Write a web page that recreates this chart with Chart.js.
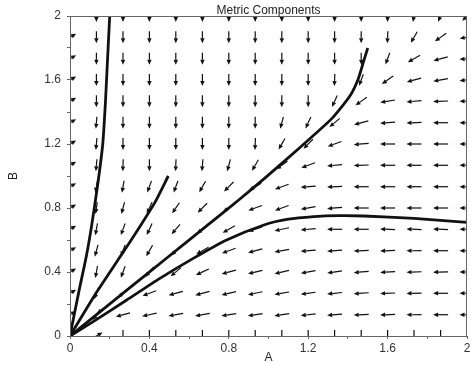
<!DOCTYPE html>
<html>
<head>
<meta charset="utf-8">
<style>
  html, body { margin: 0; padding: 0; background: #fff; }
  #wrap { width: 474px; height: 365px; }
</style>
<script src="https://cdn.jsdelivr.net/npm/chart.js@4.4.1/dist/chart.umd.min.js"></script>
</head>
<body>
<div id="wrap"><canvas id="chart" width="474" height="365"></canvas></div>
<script>
'use strict';

/* ── Data ──────────────────────────────────────────────────────────────── */

const TITLE = 'Metric Components';
const X_LABEL = 'A';
const Y_LABEL = 'B';

// Quiver grid (16 x 16)
const GRID_A = [0, 0.133, 0.267, 0.4, 0.533, 0.667, 0.8, 0.933, 1.067, 1.2, 1.333, 1.467, 1.6, 1.733, 1.867, 2];
const GRID_B = [2, 1.867, 1.733, 1.6, 1.467, 1.333, 1.2, 1.067, 0.933, 0.8, 0.667, 0.533, 0.4, 0.267, 0.133, 0];

// Arrow directions in degrees (0 = right, 90 = up), one row per GRID_B value
const FIELD_ANGLES = [
    [30, 270, 270, 270, 270, 270, 270, 270, 270, 270, 270, 270, 270, 260, 245, 225],
    [30, 270, 270, 270, 270, 270, 270, 270, 270, 270, 270, 270, 268, 240, 215, 190],
    [30, 270, 270, 270, 270, 270, 270, 270, 270, 270, 270, 270, 250, 210, 195, 185],
    [30, 270, 270, 270, 270, 270, 270, 270, 270, 270, 268, 250, 215, 195, 190, 185],
    [30, 270, 270, 270, 270, 270, 270, 270, 270, 270, 245, 215, 190, 185, 182, 180],
    [30, 265, 270, 270, 270, 270, 270, 270, 255, 245, 220, 195, 185, 182, 180, 180],
    [30, 265, 270, 270, 270, 270, 270, 268, 240, 225, 200, 185, 180, 180, 180, 180],
    [30, 265, 268, 270, 268, 265, 255, 240, 215, 200, 185, 182, 180, 180, 180, 180],
    [30, 260, 260, 250, 250, 240, 225, 210, 200, 185, 182, 180, 180, 180, 180, 180],
    [30, 262, 255, 245, 235, 225, 212, 200, 200, 190, 185, 180, 180, 180, 180, 180],
    [30, 260, 250, 245, 230, 218, 210, 198, 192, 185, 180, 180, 178, 178, 178, 180],
    [30, 255, 250, 240, 225, 210, 200, 195, 190, 185, 184, 183, 182, 181, 180, 180],
    [30, 260, 250, 230, 220, 205, 195, 193, 193, 190, 188, 185, 183, 182, 181, 180],
    [30, 250, 220, 200, 195, 195, 193, 192, 190, 188, 186, 184, 182, 181, 180, 180],
    [30, 235, 195, 192, 190, 190, 188, 188, 188, 186, 185, 183, 182, 181, 180, 180],
    [45,  30, 270, 270, 270, 270, 270, 270, 270, 270, 270, 270, 270, 270, 270, 270],
];

// Trajectories (A, B)
const TRAJ1_A = [0, 0.045, 0.081, 0.109, 0.14, 0.165, 0.178, 0.188, 0.2];
const TRAJ1_B = [0, 0.28, 0.49, 0.69, 0.95, 1.2, 1.45, 1.7, 2.0];

const TRAJ2_A = [0, 0.13, 0.25, 0.35, 0.43, 0.495];
const TRAJ2_B = [0, 0.265, 0.49, 0.68, 0.84, 1.0];

const TRAJ3_A = [0, 0.28, 0.5, 0.69, 0.85, 0.98, 1.16, 1.32, 1.41, 1.45, 1.48, 1.5];
const TRAJ3_B = [0, 0.28, 0.5, 0.69, 0.85, 0.985, 1.18, 1.36, 1.5, 1.6, 1.72, 1.8];

const TRAJ4_A = [0, 0.117, 0.286, 0.453, 0.621, 0.789, 0.977, 1.1, 1.229, 1.35, 1.481, 1.733, 2.0];
const TRAJ4_B = [0, 0.09, 0.225, 0.36, 0.485, 0.6, 0.694, 0.73, 0.746, 0.752, 0.75, 0.735, 0.71];

const ARROW_LEN = 0.0756;   // data units

/* ── Helpers ───────────────────────────────────────────────────────────── */

const FONT = '"Liberation Sans", Arial, Helvetica, sans-serif';

function toPoints(xs, ys) {
    return xs.map((x, i) => ({ x, y: ys[i] }));
}

function quiverPoints() {
    const pts = [];
    GRID_B.forEach((b, r) => {
        GRID_A.forEach((a, c) => {
            pts.push({ x: a, y: b, angle: FIELD_ANGLES[r][c] });
        });
    });
    return pts;
}

function trajectory(xs, ys) {
    return {
        type: 'line',
        data: toPoints(xs, ys),
        borderColor: '#111',
        borderWidth: 2.8,
        pointRadius: 0,
        tension: 0.2,
        fill: false,
    };
}

/* ── Plugins ───────────────────────────────────────────────────────────── */

// Draws the quiver arrows under the trajectories, clipped to the plot
const quiverPlugin = {
    id: 'quiver',
    beforeDatasetsDraw(chart) {
        const { ctx, chartArea: ca } = chart;
        const xs = chart.scales.x, ys = chart.scales.y;
        const sx = Math.abs(xs.getPixelForValue(1) - xs.getPixelForValue(0));
        const sy = Math.abs(ys.getPixelForValue(1) - ys.getPixelForValue(0));

        ctx.save();
        ctx.beginPath();
        ctx.rect(ca.left, ca.top, ca.right - ca.left, ca.bottom - ca.top);
        ctx.clip();
        ctx.strokeStyle = '#111';
        ctx.fillStyle = '#111';
        ctx.lineWidth = 1.2;

        chart.data.datasets[0].data.forEach(p => {
            const t = p.angle * Math.PI / 180;
            let u = Math.cos(t) / sx, v = Math.sin(t) / sy;
            const n = Math.hypot(u, v);
            u = u / n * ARROW_LEN;
            v = v / n * ARROW_LEN;

            const x0 = xs.getPixelForValue(p.x - u / 2), y0 = ys.getPixelForValue(p.y - v / 2);
            const x1 = xs.getPixelForValue(p.x + u / 2), y1 = ys.getPixelForValue(p.y + v / 2);
            const dx = x1 - x0, dy = y1 - y0;
            const len = Math.hypot(dx, dy);
            const ux = dx / len, uy = dy / len;
            const head = 5, half = 2.2;
            const bx = x1 - ux * head, by = y1 - uy * head;

            ctx.beginPath();
            ctx.moveTo(x0, y0);
            ctx.lineTo(bx, by);
            ctx.stroke();

            ctx.beginPath();
            ctx.moveTo(x1, y1);
            ctx.lineTo(bx - uy * half, by + ux * half);
            ctx.lineTo(bx + uy * half, by - ux * half);
            ctx.closePath();
            ctx.fill();
        });
        ctx.restore();
    },
};

// Box frame + title
const framePlugin = {
    id: 'frame',
    afterDraw(chart) {
        const { ctx, chartArea: ca } = chart;
        ctx.save();
        ctx.strokeStyle = '#666';
        ctx.lineWidth = 1;
        ctx.strokeRect(ca.left + 0.5, ca.top + 0.5, ca.right - ca.left - 1, ca.bottom - ca.top);

        ctx.fillStyle = '#222';
        ctx.font = '12px ' + FONT;
        ctx.textAlign = 'center';
        ctx.textBaseline = 'alphabetic';
        ctx.fillText(TITLE, (ca.left + ca.right) / 2, 14);
        ctx.restore();
    },
};

/* ── Chart ─────────────────────────────────────────────────────────────── */

function tickLabel(v) {
    const r = Math.round(v * 10);
    return r % 4 === 0 ? String(+(r / 10).toFixed(1)) : '';
}

const axisCommon = {
    type: 'linear',
    min: 0,
    max: 2,
    grid: { display: true, drawOnChartArea: false, drawTicks: true, tickLength: 3, color: '#666' },
    border: { display: true, color: '#555', width: 1 },
};

new Chart(document.getElementById('chart').getContext('2d'), {
    data: {
        datasets: [
            {
                type: 'scatter',
                label: 'field',
                data: quiverPoints(),
                pointRadius: 0,
                pointHoverRadius: 0,
            },
            trajectory(TRAJ1_A, TRAJ1_B),
            trajectory(TRAJ2_A, TRAJ2_B),
            trajectory(TRAJ3_A, TRAJ3_B),
            trajectory(TRAJ4_A, TRAJ4_B),
        ],
    },
    options: {
        responsive: false,
        animation: false,
        devicePixelRatio: 1,
        layout: { padding: { top: 16, right: 7, left: 0, bottom: 0 } },
        plugins: {
            legend: { display: false },
            tooltip: { enabled: false },
        },
        scales: {
            x: {
                ...axisCommon,
                afterFit: s => { s.height = 29; },
                ticks: {
                    stepSize: 0.2, autoSkip: false, maxRotation: 0, padding: 2,
                    color: '#333', font: { family: FONT, size: 12 }, callback: tickLabel,
                },
                title: { display: true, text: X_LABEL, color: '#222', font: { family: FONT, size: 12 }, padding: { top: 0, bottom: 0 } },
            },
            y: {
                ...axisCommon,
                afterFit: s => { s.width = 70; },
                ticks: {
                    stepSize: 0.2, autoSkip: false, padding: 6,
                    color: '#333', font: { family: FONT, size: 12 }, callback: tickLabel,
                },
                title: { display: true, text: Y_LABEL, color: '#222', font: { family: FONT, size: 12 }, padding: { top: 6, bottom: 0 } },
            },
        },
    },
    plugins: [quiverPlugin, framePlugin],
});
</script>
</body>
</html>
